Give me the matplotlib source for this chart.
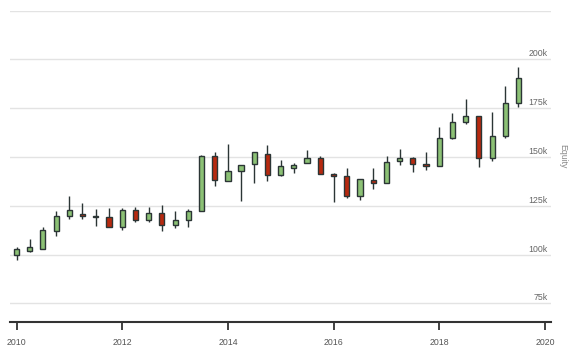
import pandas as pd
import numpy as np
import matplotlib
matplotlib.use('Agg')
import matplotlib.pyplot as plt
import matplotlib.dates as mdates

plt.rcParams['font.family'] = ['Liberation Sans', 'DejaVu Sans']

# quarterly equity candles (values in thousands)
dates = pd.date_range('2010-01-01', periods=39, freq='QS')
opens = [100.0, 102.0, 103.0, 112.2, 119.8, 120.8, 119.8, 119.3, 114.2, 122.8,
         117.8, 121.3, 115.3, 117.8, 122.4, 150.5, 137.5, 142.7, 146.4, 151.6,
         140.6, 144.3, 146.9, 149.5, 141.1, 140.1, 130.2, 138.0, 136.7, 148.0,
         149.5, 146.4, 145.4, 159.7, 167.9, 170.9, 149.5, 160.7, 177.6]
highs = [103.9, 107.8, 113.9, 122.5, 130.1, 126.5, 123.5, 124.0, 123.9, 124.6,
         124.6, 125.6, 122.5, 123.5, 151.2, 152.6, 156.4, 145.8, 152.6, 155.9,
         148.4, 146.9, 153.8, 150.5, 141.7, 144.3, 138.5, 144.3, 150.5, 154.3,
         150.0, 152.6, 165.3, 172.4, 179.6, 170.9, 173.0, 186.4, 196.1]
lows = [97.3, 101.5, 103.0, 109.5, 118.1, 118.1, 114.6, 114.2, 112.5, 116.6,
        116.6, 112.0, 113.6, 114.2, 122.4, 135.2, 137.5, 127.4, 136.8, 137.8,
        140.1, 141.7, 146.9, 141.1, 126.9, 129.2, 128.1, 133.7, 136.7, 145.7,
        142.2, 143.4, 145.4, 159.2, 166.8, 144.7, 148.0, 159.7, 175.5]
closes = [102.7, 103.7, 112.7, 119.8, 122.8, 119.8, 119.5, 114.2, 122.8, 117.8,
          121.3, 115.3, 117.8, 122.4, 150.5, 138.0, 142.7, 145.8, 152.6, 140.6,
          145.3, 145.8, 149.5, 141.1, 140.1, 130.2, 138.5, 136.5, 147.4, 149.5,
          146.4, 145.4, 159.7, 167.9, 170.9, 149.5, 160.7, 177.6, 190.3]
yticks = [75, 100, 125, 150, 175, 200, 225]

df = pd.DataFrame({'open': opens, 'high': highs, 'low': lows, 'close': closes}, index=dates)
x = mdates.date2num(df.index.to_pydatetime())
up = df['close'] >= df['open']
colors = np.where(up, '#8cc175', '#b7290f')

fig = plt.figure(figsize=(5.8, 3.6), dpi=100)
ax = fig.add_axes([10/580, 0.1047, 541/580, 0.866])

# grid lines
for v in yticks:
    ax.axhline(v, color='#e3e3e3', lw=1, zorder=0)
    if v < 225:
        ax.annotate('%dk' % v, xy=(1, v), xycoords=('axes fraction', 'data'),
                    xytext=(-2.5, 2.2), textcoords='offset points',
                    ha='right', va='baseline', fontsize=6.3, color='#666666')

# wicks + bodies
ax.vlines(x, df['low'], df['high'], color='#2b3535', lw=1, zorder=2)
body_bottom = np.minimum(df['open'], df['close'])
body_h = np.maximum(np.abs(df['close'] - df['open']), 0.3)
ax.bar(x, body_h, bottom=body_bottom, width=36, color=colors,
       edgecolor='#2b3535', linewidth=1, zorder=3)

ax.set_ylim(65.3, 225)
ax.set_xlim(pd.Timestamp('2009-11-16'), pd.Timestamp('2020-02-12'))
ax.set_yticks([])
ax.xaxis.set_major_locator(mdates.YearLocator(2))
ax.xaxis.set_major_formatter(mdates.DateFormatter('%Y'))
ax.tick_params(axis='x', length=6, width=1.3, color='#333333', pad=5,
               labelsize=6.3, labelcolor='#555555')
for s in ['top', 'left', 'right']:
    ax.spines[s].set_visible(False)
ax.spines['bottom'].set_color('#333333')
ax.spines['bottom'].set_linewidth(1.5)

fig.text(563/580, 1 - 156/360, 'Equity', rotation=270, ha='center', va='center',
         fontsize=6.3, color='#888888')

fig.savefig('out.png', dpi=100)
